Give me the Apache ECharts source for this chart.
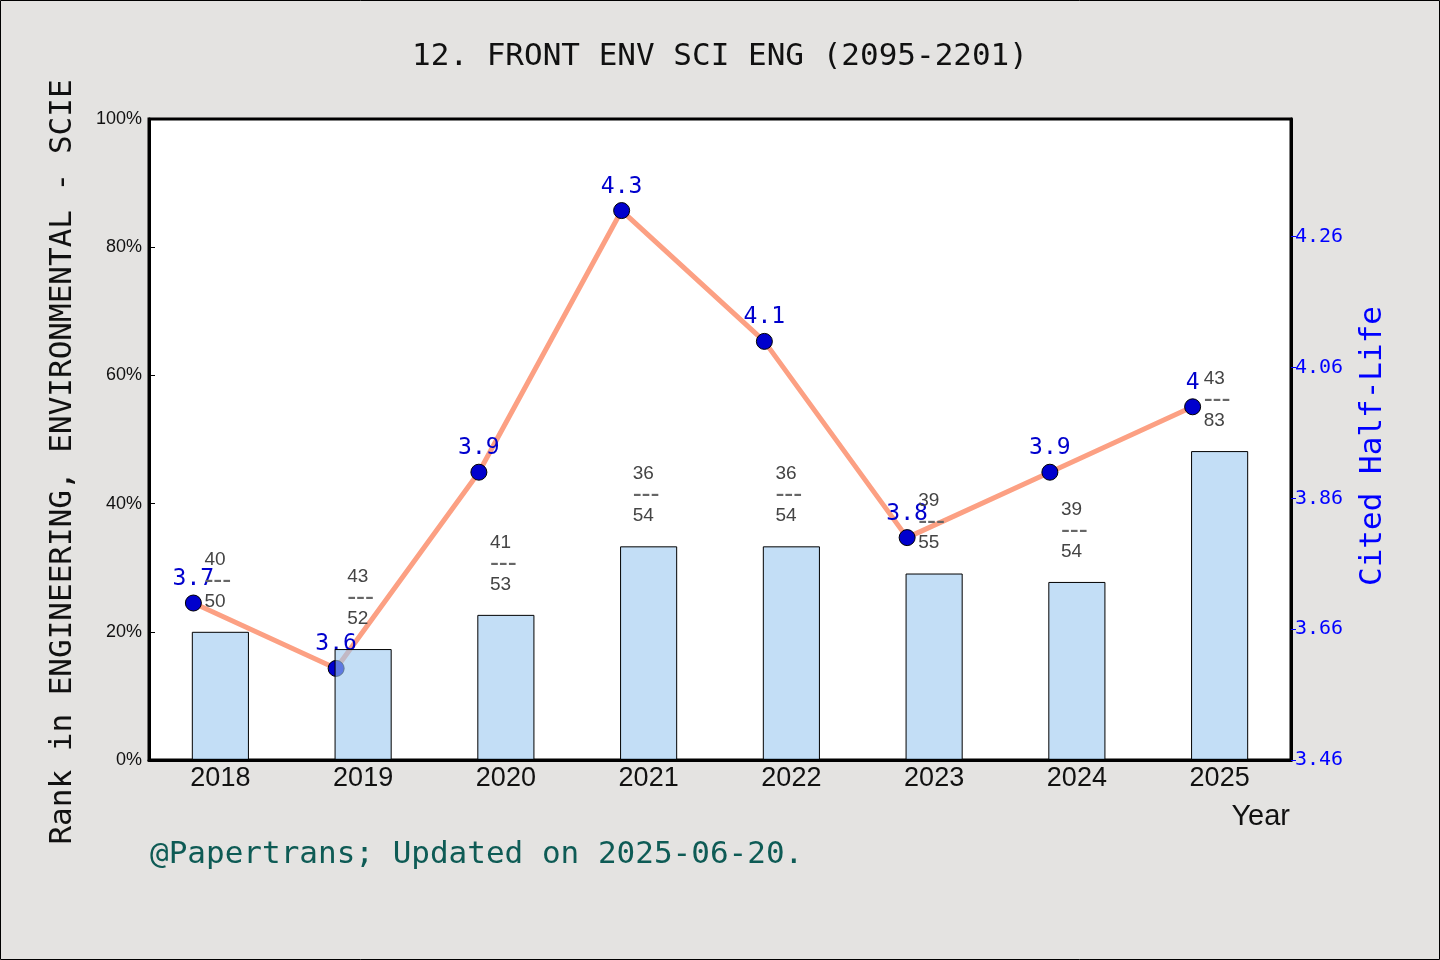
<!DOCTYPE html>
<html>
<head>
<meta charset="utf-8">
<script src="https://cdn.jsdelivr.net/npm/echarts@6/dist/echarts.min.js"></script>
<style>
html,body{margin:0;padding:0;background:#e4e3e1;}
#c{width:1440px;height:960px;}
</style>
</head>
<body>
<div id="c"></div>
<script>
const years = ['2018','2019','2020','2021','2022','2023','2024','2025'];
const ranks = [40, 43, 41, 36, 36, 39, 39, 43];
const totals = [50, 52, 53, 54, 54, 55, 54, 83];
const halfLife = [3.7, 3.6, 3.9, 4.3, 4.1, 3.8, 3.9, 4.0];
const halfLifeLabels = ['3.7','3.6','3.9','4.3','4.1','3.8','3.9','4'];
const leftTicks = [0, 100, 20];
const rightRange = [3.46, 4.44];
const rightTickValues = [3.46, 3.66, 3.86, 4.06, 4.26];

const barValues = ranks.map((r, i) => (1 - r / totals[i]) * 100);

const mono = '"DejaVu Sans Mono", monospace';
const sans = '"Liberation Sans", Arial, sans-serif';

const chart = echarts.init(document.getElementById('c'));
chart.setOption({
  backgroundColor: '#e4e3e1',
  animation: false,
  title: {
    text: '12. FRONT ENV SCI ENG (2095-2201)',
    left: 'center', top: 36,
    textStyle: { fontFamily: mono, fontSize: 31, fontWeight: 'normal', color: '#111' }
  },
  grid: [
    { left: 149, right: 149, top: 119, bottom: 200, show: true, backgroundColor: '#fff', borderColor: '#000', borderWidth: 3 },
    { left: 122, right: 176, top: 119, bottom: 200, show: false }
  ],
  xAxis: [
    {
      type: 'category', data: years, gridIndex: 0, boundaryGap: true,
      axisLine: { lineStyle: { color: '#000', width: 3 } },
      axisTick: { inside: true, length: 5, lineStyle: { color: '#000', width: 1 } },
      axisLabel: { fontFamily: sans, fontSize: 27, color: '#111', margin: 5 }
    },
    {
      type: 'category', data: years, gridIndex: 1, boundaryGap: true, show: false
    }
  ],
  yAxis: [
    {
      type: 'value', gridIndex: 0, position: 'left',
      min: leftTicks[0], max: leftTicks[1], interval: leftTicks[2],
      splitLine: { show: false },
      axisLine: { show: true, lineStyle: { color: '#000', width: 3 } },
      axisTick: { show: true, inside: true, length: 6, lineStyle: { color: '#000' } },
      axisLabel: { formatter: '{value}%', fontFamily: sans, fontSize: 18, color: '#111', margin: 7 }
    },
    {
      type: 'value', gridIndex: 0, position: 'right',
      min: rightRange[0], max: rightRange[1],
      splitLine: { show: false },
      axisLine: { show: true, lineStyle: { color: '#000', width: 3 } },
      axisTick: { show: true, inside: false, length: 5, customValues: rightTickValues, lineStyle: { color: '#0000ff', width: 1 } },
      axisLabel: { customValues: rightTickValues, formatter: v => v.toFixed(2), fontFamily: mono, fontSize: 20, color: '#0000ff', margin: 4 }
    },
    {
      type: 'value', gridIndex: 1, show: false,
      min: rightRange[0], max: rightRange[1],
      splitLine: { show: false }
    }
  ],
  series: [
    {
      type: 'line', xAxisIndex: 1, yAxisIndex: 2, data: halfLife, z: 1,
      lineStyle: { color: '#fca083', width: 5 },
      symbol: 'circle', symbolSize: 16,
      itemStyle: { color: '#0000cd', borderColor: '#000', borderWidth: 1 },
      label: {
        show: true, position: 'top', distance: 4,
        formatter: p => halfLifeLabels[p.dataIndex],
        fontFamily: mono, fontSize: 23, color: '#0000cd'
      }
    },
    {
      type: 'bar', xAxisIndex: 0, yAxisIndex: 0, data: barValues, z: 3, barWidth: '40%',
      itemStyle: { color: 'rgba(155,200,240,0.6)', borderColor: '#000', borderWidth: 1 },
      label: {
        show: true, position: 'top', align: 'left', offset: [-16, -15],
        formatter: p => ranks[p.dataIndex] + '\n{d|---}\n' + totals[p.dataIndex],
        fontFamily: sans, fontSize: 19, color: '#444', lineHeight: 21,
        rich: { d: { fontFamily: sans, fontSize: 27, color: '#666', lineHeight: 21 } }
      }
    }
  ],
  graphic: [
    { type: 'rect', shape: { x: 0.5, y: 0.5, width: 1439, height: 959 }, style: { fill: 'none', stroke: '#000', lineWidth: 1 }, silent: true },
    { type: 'text', x: 63, y: 462, rotation: Math.PI / 2,
      style: { text: 'Rank in ENGINEERING, ENVIRONMENTAL - SCIE', fontFamily: mono, fontSize: 31, fill: '#111', align: 'center', verticalAlign: 'middle' } },
    { type: 'text', x: 1373, y: 446, rotation: Math.PI / 2,
      style: { text: 'Cited Half-Life', fontFamily: mono, fontSize: 31, fill: '#0000ff', align: 'center', verticalAlign: 'middle' } },
    { type: 'text', x: 1290, y: 817,
      style: { text: 'Year', fontFamily: sans, fontSize: 29, fill: '#111', align: 'right', verticalAlign: 'middle' } },
    { type: 'text', x: 150, y: 855,
      style: { text: '@Papertrans; Updated on 2025-06-20.', fontFamily: mono, fontSize: 31, fill: '#0e5b55', align: 'left', verticalAlign: 'middle' } }
  ]
});
</script>
</body>
</html>
